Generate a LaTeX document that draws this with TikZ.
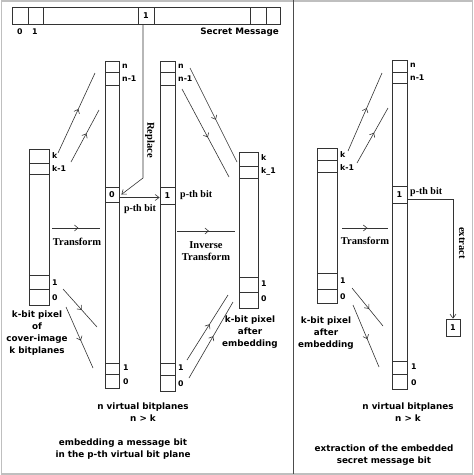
\documentclass[tikz,border=0pt]{standalone}
\usepackage{fontspec}
\setmainfont{Liberation Serif}
\setsansfont{DejaVu Sans}
\usetikzlibrary{decorations.markings,arrows.meta}

\tikzset{
  col/.style={draw=black!80, line width=0.8pt, inner sep=0pt, anchor=north west},
  cell/.style={draw=black!80, line width=0.8pt, fill=white, inner sep=0pt, font=\sffamily\bfseries\fontsize{8}{9}\selectfont},
  lbl/.style={anchor=west, inner sep=0pt, font=\sffamily\bfseries\fontsize{7.8}{8}\selectfont},
  captxt/.style={align=center, inner sep=0pt, font=\sffamily\bfseries\fontsize{8.8}{12}\selectfont},
  note/.style={inner sep=0pt, align=center, font=\bfseries\fontsize{10.5}{12.5}\selectfont},
  pth/.style={inner sep=0pt, font=\bfseries\fontsize{10}{11}\selectfont},
  flow/.style={draw=black!80, line width=0.6pt, postaction={decorate},
    decoration={markings, mark=at position 0.55 with {\arrow{Straight Barb[length=3.5pt,width=6pt]}}}},
  link/.style={draw=black!80, line width=0.6pt, -{Straight Barb[length=4pt,width=6pt]}},
}

\begin{document}
\begin{tikzpicture}[x=1pt, y=-1pt]
    \useasboundingbox (0,0) rectangle (474,475);
    \draw[gray!50, line width=1.5pt] (1.5,1) rectangle (472.5,474);
    \draw[black!70, line width=0.8pt] (293,0) -- (293,474);

    % secret message
    \node[col, minimum width=268pt, minimum height=17pt] (msg) at (12,7) {};
    \foreach \x in {28,43,250,266}
        \draw[black!80, line width=0.8pt] (\x,7) -- (\x,24);
    \node[cell, minimum width=16pt, minimum height=17pt] (mbit) at (146,15.5) {1};
    \node[lbl] (m0) at (17,32) {0};
    \node[lbl] (m1) at (32,32) {1};
    \node[captxt, anchor=east] (mlabel) at (279,32) {Secret Message};

    % k-bit pixel of cover image
    \node[col, minimum width=20pt, minimum height=156pt] (cov) at (29,149) {};
    \foreach \y in {163,174,275,289}
        \draw[black!80, line width=0.8pt] (29,\y) -- (49,\y);
    \node[lbl] (covk) at (52,156) {k};
    \node[lbl] (covk1) at (52,169) {k-1};
    \node[lbl] (cov1) at (52,283) {1};
    \node[lbl] (cov0) at (52,298) {0};
    \node[captxt] (covcap) at (37,333) {k-bit pixel\\of\\cover-image\\k bitplanes};

    % n virtual bitplanes before
    \node[col, minimum width=14pt, minimum height=327pt] (vba) at (105,61) {};
    \foreach \y in {72,85,363,374}
        \draw[black!80, line width=0.8pt] (105,\y) -- (119,\y);
    \node[cell, minimum width=14pt, minimum height=15pt] (p0) at (112,194.5) {0};
    \node[lbl] (vban) at (122,66) {n};
    \node[lbl] (vban1) at (122,79) {n-1};
    \node[lbl] (vba1) at (123,368) {1};
    \node[lbl] (vba0) at (123,382) {0};
    \node[pth] (pa) at (140,209) {p-th bit};

    % n virtual bitplanes after
    \node[col, minimum width=15pt, minimum height=330pt] (vbb) at (160,61) {};
    \foreach \y in {72,85,363,375}
        \draw[black!80, line width=0.8pt] (160,\y) -- (175,\y);
    \node[cell, minimum width=15pt, minimum height=17pt] (p1) at (167.5,195.5) {1};
    \node[lbl] (vbbn) at (178,66) {n};
    \node[lbl] (vbbn1) at (178,79) {n-1};
    \node[lbl] (vbb1) at (178,368) {1};
    \node[lbl] (vbb0) at (178,384) {0};
    \node[pth, anchor=west] (pb) at (180,195) {p-th bit};

    % k-bit pixel after embedding
    \node[col, minimum width=19pt, minimum height=156pt] (emb) at (239,152) {};
    \foreach \y in {166,178,277,292}
        \draw[black!80, line width=0.8pt] (239,\y) -- (258,\y);
    \node[lbl] (embk) at (261,158) {k};
    \node[lbl] (embk1) at (261,171) {k\_1};
    \node[lbl] (emb1) at (261,284) {1};
    \node[lbl] (emb0) at (261,299) {0};
    \node[captxt] (embcap) at (250,332) {k-bit pixel\\after\\embedding};

    % replace and transforms
    \coordinate (bend) at (143,178);
    \draw[link] (mbit.south -| bend) -- (bend) -- ([xshift=2pt]p0.east);
    \node[note, rotate=-90] (rep) at (150,140) {Replace};
    \draw[link] ([yshift=-3pt]p0.east) -- ([yshift=-2pt]p1.west);
    \coordinate (ta) at (52,228);
    \coordinate (tb) at (100,228);
    \draw[flow] (ta) -- (tb);
    \node[note] (tlabel) at (77,242) {Transform};
    \coordinate (ia) at (177,231);
    \coordinate (ib) at (235,231);
    \draw[flow] (ia) -- (ib);
    \node[note] (ilabel) at (206,251) {Inverse\\Transform};

    % bit plane arrows
    \foreach \n/\p/\q in {a/{58,153}/{95,73}, b/{71,162}/{99,110},
        c/{190,68}/{237,162}, d/{182,89}/{229,177},
        e/{63,289}/{97,327}, f/{66,307}/{93,368},
        g/{187,360}/{228,295}, h/{189,378}/{233,302}} {
        \coordinate (\n s) at (\p);
        \coordinate (\n e) at (\q);
        \draw[flow] (\n s) -- (\n e);
    }

    \node[captxt] (vbcap) at (143,412) {n virtual bitplanes\\n > k};
    \node[captxt] (embtitle) at (123,449) {embedding a message bit\\in the p-th virtual bit plane};

    % extraction
    \node[col, minimum width=20pt, minimum height=155pt] (rpix) at (317,148) {};
    \foreach \y in {160,172,273,289}
        \draw[black!80, line width=0.8pt] (317,\y) -- (337,\y);
    \node[lbl] (rpixk) at (340,155) {k};
    \node[lbl] (rpixk1) at (340,168) {k-1};
    \node[lbl] (rpix1) at (340,281) {1};
    \node[lbl] (rpix0) at (340,297) {0};
    \node[captxt] (rpixcap) at (326,333) {k-bit pixel\\after\\embedding};

    \node[col, minimum width=15pt, minimum height=329pt] (rvb) at (392,60) {};
    \foreach \y in {72,83,361,374}
        \draw[black!80, line width=0.8pt] (392,\y) -- (407,\y);
    \node[cell, minimum width=15pt, minimum height=17pt] (rbit) at (399.5,194.5) {1};
    \node[lbl] (rvbn) at (410,65) {n};
    \node[lbl] (rvbn1) at (410,78) {n-1};
    \node[lbl] (rvb1) at (411,367) {1};
    \node[lbl] (rvb0) at (411,383) {0};
    \node[pth, anchor=west] (rp) at (410,192) {p-th bit};

    \coordinate (rta) at (342,228);
    \coordinate (rtb) at (388,228);
    \draw[flow] (rta) -- (rtb);
    \node[note] (rtlabel) at (365,241) {Transform};

    \node[cell, minimum width=14pt, minimum height=17pt] (out) at (453,327.5) {1};
    \coordinate (ecorner) at (453,199);
    \draw[link] (rbit.east |- ecorner) -- (ecorner) -- (out.north);
    \node[note, rotate=-90] (ext) at (462,243) {extract};

    \foreach \n/\p/\q in {ra/{348,151}/{382,73}, rb/{357,163}/{388,108},
        rc/{352,288}/{383,326}, rd/{353,305}/{379,367}} {
        \coordinate (\n s) at (\p);
        \coordinate (\n e) at (\q);
        \draw[flow] (\n s) -- (\n e);
    }

    \node[captxt] (rvbcap) at (408,412) {n virtual bitplanes\\n > k};
    \node[captxt] (exttitle) at (384,455) {extraction of the embedded\\secret message bit};
\end{tikzpicture}
\end{document}
